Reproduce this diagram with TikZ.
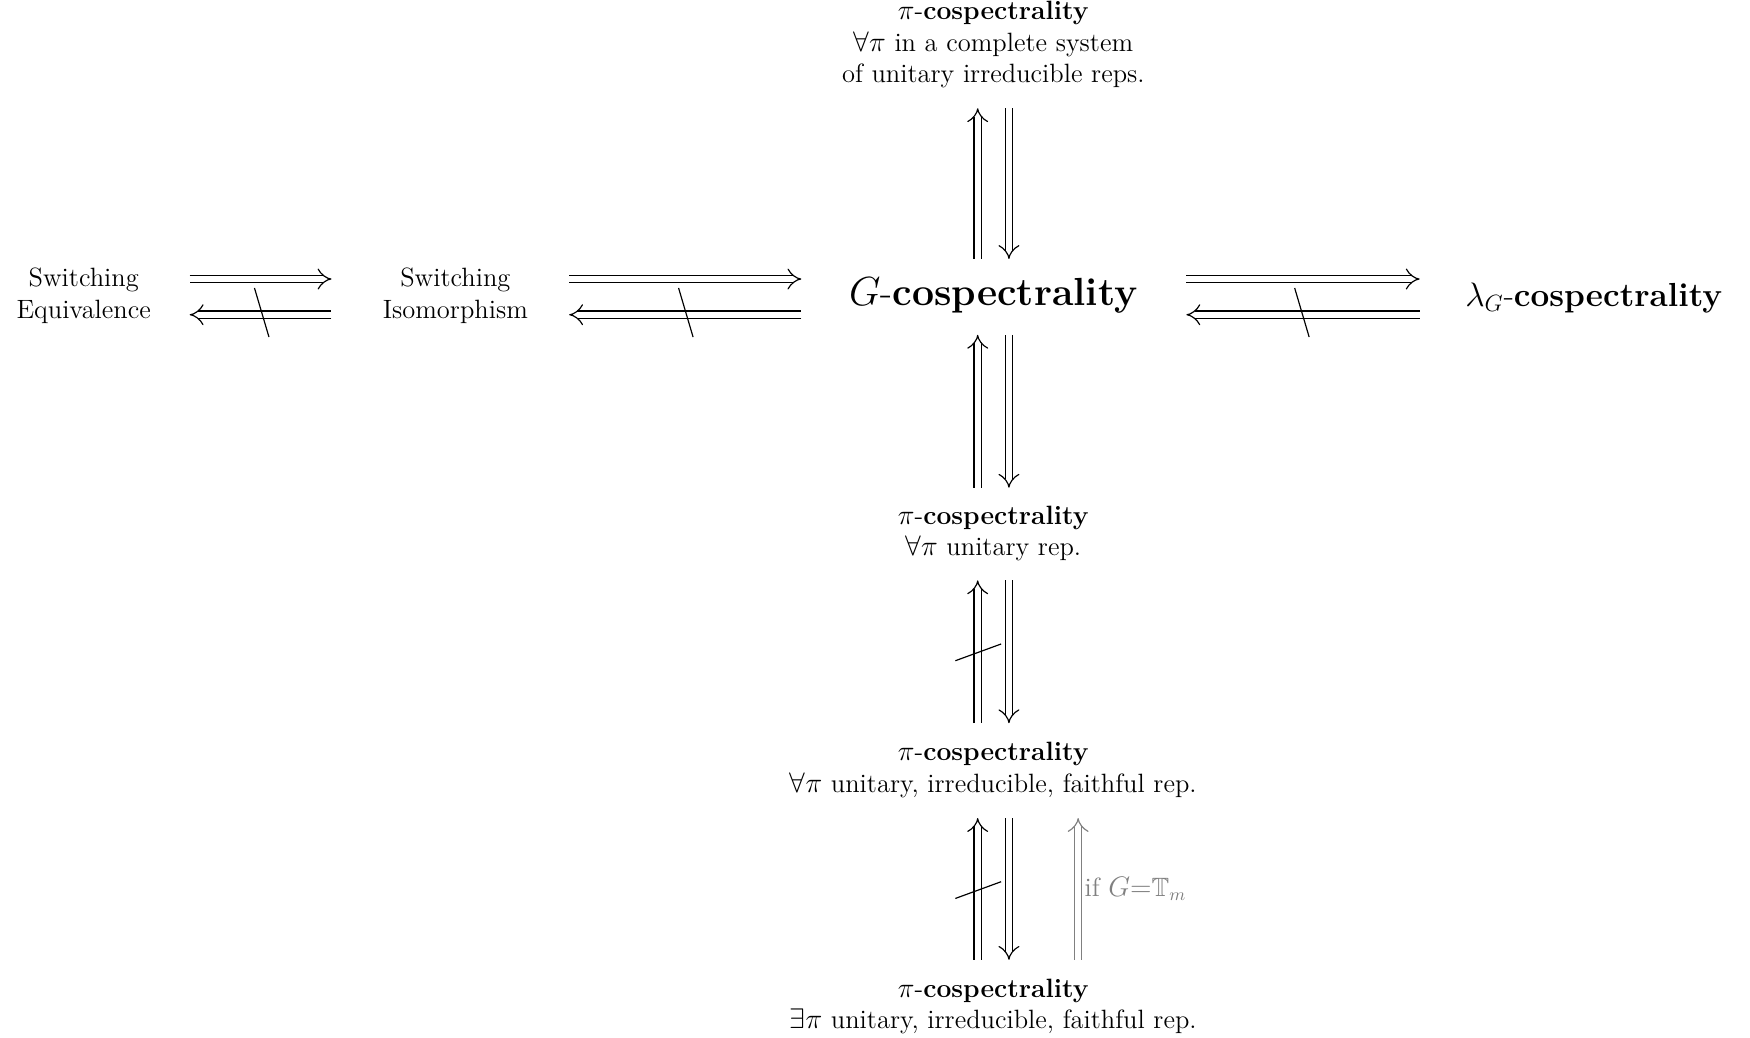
\documentclass[tikz,border=0pt]{standalone}
\usepackage{amssymb}
\usetikzlibrary{arrows.meta}
\begin{document}
\begin{tikzpicture}[x=0.02cm,y=-0.02cm,
  lbl/.style={align=center,font=\fontsize{13.5}{16}\selectfont,inner sep=0pt},
  imp/.style={double,double distance=3.2pt,line width=0.6pt,-{Implies[length=5pt]},shorten >=0pt},
  gimp/.style={imp,gray},
  slash/.style={line width=0.6pt}]
\useasboundingbox (0,0) rectangle (1568,930);
\node[lbl] (top) at (890,40) {$\pi$-\textbf{cospectrality}\\$\forall\pi$ in a complete system\\of unitary irreducible reps.};
\node[lbl] (se) at (75,265) {Switching\\Equivalence};
\node[lbl] (si) at (408,265) {Switching\\Isomorphism};
\node[lbl,font=\fontsize{20}{24}\selectfont] (g) at (890,265) {$G$-\textbf{cospectrality}};
\node[lbl,font=\fontsize{17}{20}\selectfont] (lg) at (1428,267) {$\lambda_G$-\textbf{cospectrality}};
\node[lbl] (u) at (890,478) {$\pi$-\textbf{cospectrality}\\$\forall\pi$ unitary rep.};
\node[lbl] (f) at (890,690) {$\pi$-\textbf{cospectrality}\\$\forall\pi$ unitary, irreducible, faithful rep.};
\node[lbl] (e) at (890,902) {$\pi$-\textbf{cospectrality}\\$\exists\pi$ unitary, irreducible, faithful rep.};
% horizontal
\coordinate (a1) at (170,250); \coordinate (a2) at (297,250);
\coordinate (a3) at (297,282); \coordinate (a4) at (170,282);
\draw[imp] (a1) -- (a2); \draw[imp] (a3) -- (a4);
\draw[slash] (228,258) -- (241,302);
\coordinate (b1) at (510,250); \coordinate (b2) at (718,250);
\coordinate (b3) at (718,282); \coordinate (b4) at (510,282);
\draw[imp] (b1) -- (b2); \draw[imp] (b3) -- (b4);
\draw[slash] (608,258) -- (621,302);
\coordinate (c1) at (1063,250); \coordinate (c2) at (1272,250);
\coordinate (c3) at (1272,282); \coordinate (c4) at (1063,282);
\draw[imp] (c1) -- (c2); \draw[imp] (c3) -- (c4);
\draw[slash] (1160,258) -- (1173,302);
% vertical
\draw[imp] (876,232) -- (876,97); \draw[imp] (904,97) -- (904,232);
\draw[imp] (876,437) -- (876,300); \draw[imp] (904,300) -- (904,437);
\draw[imp] (876,648) -- (876,520); \draw[imp] (904,520) -- (904,648);
\draw[slash] (856,592) -- (897,577);
\draw[imp] (876,860) -- (876,733); \draw[imp] (904,733) -- (904,860);
\draw[slash] (856,805) -- (897,790);
\draw[gimp] (966,860) -- (966,733) node[midway,right,lbl,text=gray,xshift=3pt] {if $G{=}\mathbb{T}_m$};
\end{tikzpicture}
\end{document}
